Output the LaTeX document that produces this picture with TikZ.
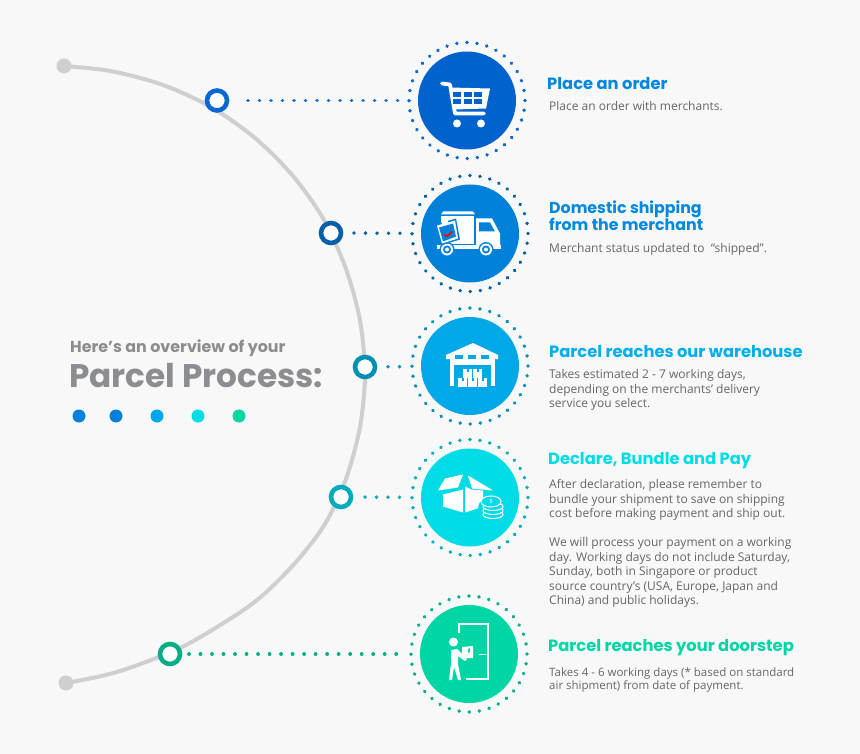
\documentclass[tikz,border=0pt]{standalone}
\usepackage{fontspec}
\setmainfont{Open Sans}
\newfontfamily\headfont{Poppins}
\usetikzlibrary{calc}
\definecolor{paper}{HTML}{F8F8F8}
\definecolor{arcgray}{HTML}{CFCFCF}
\definecolor{titlegray}{HTML}{8C8D90}
\definecolor{bodygray}{HTML}{666666}
\definecolor{stepA}{HTML}{0062CC}
\definecolor{stepB}{HTML}{0081D9}
\definecolor{stepC}{HTML}{00A8E8}
\definecolor{stepD}{HTML}{00DCE6}
\definecolor{stepE}{HTML}{00D5A5}
\definecolor{dotA}{HTML}{0A66D0}
\definecolor{dotB}{HTML}{0560A8}
\definecolor{dotC}{HTML}{0090B4}
\definecolor{dotD}{HTML}{00ABBB}
\definecolor{dotE}{HTML}{00AE86}
\definecolor{headA}{HTML}{0088E0}
\definecolor{headC}{HTML}{00AEEF}
\tikzset{
    disc/.style={circle,fill=#1,minimum size=98pt,inner sep=0pt,outer sep=0pt},
    halo/.style={circle,draw=#1,line width=3.8pt,line cap=round,dash pattern=on 0.01pt off 10.12pt,minimum size=116pt,inner sep=0pt,outer sep=0pt},
    ringmark/.style={circle,draw=#1,fill=white,line width=4.6pt,minimum size=20pt,inner sep=0pt,outer sep=0pt},
    arcend/.style={circle,fill=arcgray,minimum size=15pt,inner sep=0pt,outer sep=0pt},
    smalldot/.style={circle,fill=#1,minimum size=13pt,inner sep=0pt,outer sep=0pt},
    dotlink/.style={draw=#1,line width=3.8pt,line cap=round,dash pattern=on 0.01pt off 11.5pt},
    head/.style={anchor=north west,inner sep=0pt,text=#1,align=left,font=\headfont\bfseries\fontsize{16.3}{17}\selectfont},
    body/.style={anchor=north west,inner sep=0pt,text=bodygray,align=left,font=\fontsize{12}{14.5}\selectfont},
}

\begin{document}
\begin{tikzpicture}[x=1pt,y=-1pt]
    \fill[paper] (0,0) rectangle (860,754);
    \useasboundingbox (0,0) rectangle (860,754);

    \draw[arcgray,line width=4pt] plot[smooth] coordinates {
        (64,66) (110.5,71) (162,84.6) (211,107) (255,138) (293,176) (324,220) (346,269) (360,320.5) (365,374)
        (360,427) (346,479) (325,524) (296,562) (263,595) (233,617) (180,648) (117,672) (66,683)};
    \node[arcend] (arcTop) at (64,66) {};
    \node[arcend] (arcBottom) at (66,683) {};

    \foreach \n/\xc/\yc/\xr/\yr/\gap in {A/467/100.5/217/100.5/21,B/470/233.5/331/233/13,C/470/366/365/367/13,D/470/497.5/341/497/14,E/469/654/170/654/9} {
        \node[halo=dot\n] (halo\n) at (\xc,\yc) {};
        \node[disc=step\n] (disc\n) at (\xc,\yc) {};
        \node[ringmark=dot\n] (ring\n) at (\xr,\yr) {};
        \draw[dotlink=dot\n,shorten <=\gap pt,shorten >=9pt] (ring\n) -- (halo\n);
    }

    % cart
    \begin{scope}[shift={(467,100.5)}]
        \draw[white,line width=3.8pt,line cap=round,line join=round] (-25,-17) -- (-17,-16) -- (-12,13) -- (17,13);
        \fill[white] (-17,-13) -- (23,-12) -- (19,8) -- (-12,9) -- cycle;
        \foreach \wx in {-14,-3,7} {
            \foreach \wy in {-8,-1} {
                \fill[stepA] (\wx,\wy) rectangle (\wx+8,\wy+4.5);
            }
        }
        \fill[white] (-10,23) circle (4) (14,23) circle (4);
    \end{scope}

    % truck
    \begin{scope}[shift={(470,233.5)}]
        \fill[white] (-27,-22) -- (3,-22) -- (5,-19) -- (-29,-19) -- cycle;
        \fill[white] (-29,-17) rectangle (4,11);
        \fill[white] (6,-15) -- (22,-15) -- (30,0) -- (30,12) -- (6,12) -- cycle;
        \fill[stepB] (9,-11) -- (20,-11) -- (25,-2) -- (9,-2) -- cycle;
        \fill[white] (-33,11.5) rectangle (31,15.5);
        \foreach \wx in {-23,16} {
            \fill[stepB] (\wx,16) circle (7.5);
            \fill[white] (\wx,16) circle (6);
            \fill[stepB] (\wx,16) circle (4);
            \fill[white] (\wx,16) circle (2);
        }
        \fill[stepB] (-35,-9) -- (-14,-15) -- (-10,6) -- (-29,12) -- cycle;
        \fill[white] (-33,-8) -- (-15,-13) -- (-12,5) -- (-28,10) -- cycle;
        \fill[stepB] (-31,-6) -- (-17,-10) -- (-14,3) -- (-27,8) -- cycle;
        \fill[white] (-28,-14) rectangle (-22,-9);
        \draw[red,line width=1.5pt] (-26,1) -- (-23,3) -- (-18,-2);
    \end{scope}

    % warehouse
    \begin{scope}[shift={(470,366)}]
        \fill[white] (-24,-11) -- (3,-23) -- (28,-11) -- (28,-7) -- (-24,-7) -- cycle;
        \fill[white] (-20,-7) rectangle (25,20);
        \foreach \wx in {-15,-2,11} {
            \fill[stepC] (\wx,-11) rectangle (\wx+8,-7);
        }
        \fill[stepC] (-16,-1) rectangle (21,20);
        \foreach \bx/\by in {-7/3,3/3,-12/12,-2/12,8/12} {
            \fill[white] (\bx,\by) rectangle (\bx+9,\by+8.5);
            \fill[stepC] (\bx+3.5,\by) rectangle (\bx+5.5,\by+2.5);
        }
    \end{scope}

    % box and coins
    \begin{scope}[shift={(470,497.5)}]
        \fill[white] (-32,-7) -- (-25,-19) -- (-7,-23) -- (-12,-10) -- cycle;
        \fill[white] (-2,-22) -- (23,-7) -- (2,-9) -- cycle;
        \fill[white] (-27,-3) -- (-7,-8) -- (-7,15) -- (-27,9) -- cycle;
        \fill[white] (-5,-11) -- (1,-8) -- (13,-7) -- (13,9) -- (-5,15) -- cycle;
        \fill[stepD] (21,11) ellipse (13 and 12);
        \foreach \cy in {17,13,9} {
            \filldraw[fill=stepD,draw=white,line width=1pt] (23,\cy) ellipse (10 and 4);
        }
        \filldraw[fill=stepD,draw=white,line width=1pt] (21,4) ellipse (10 and 5.5);
        \node[text=white,font=\fontsize{6}{6}\selectfont,inner sep=0pt] (coinLabel) at (21,4) {\$};
    \end{scope}

    % door and person
    \begin{scope}[shift={(469,654)}]
        \draw[white,line width=1.5pt] (-10,-21) -- (-10,-30) -- (19,-30) -- (19,25) -- (-3,25);
        \draw[white,line width=1.5pt] (10,0.5) -- (17,0.5);
        \fill[white] (-15.5,-12) circle (4.5);
        \fill[white] (-18,-4) -- (-12,-5) -- (-2,5) -- (-4,7) -- (-11,2) -- (-11,10) -- (-8,26) -- (-11,26) -- (-15,13) -- (-17,26) -- (-20,26) -- (-18,10) -- cycle;
        \fill[white] (-7,-7) -- (4,-8) -- (4,4) -- (-7,4) -- cycle;
        \fill[stepE] (-1,-5) -- (1,-6) -- (1,-2) -- (-1,-1) -- cycle;
    \end{scope}

    \node[anchor=base west,inner sep=0pt,text=titlegray,font=\headfont\bfseries\fontsize{15.9}{17}\selectfont] (overview) at (70,352.5) {Here’s an overview of your};
    \node[anchor=base west,inner sep=0pt,text=titlegray,font=\headfont\bfseries\fontsize{32.7}{36}\selectfont] (parcelTitle) at (69,387) {Parcel Process:};
    \node[smalldot=stepB] (keyA) at (79,416) {};
    \node[smalldot=stepB] (keyB) at (116,416) {};
    \node[smalldot=stepC] (keyC) at (157,416) {};
    \node[smalldot=stepD] (keyD) at (198,416) {};
    \node[smalldot=stepE] (keyE) at (239,416) {};

    \node[head=headA] (headA) at (547,77.5) {Place an order};
    \node[body] (bodyA) at (549,101.5) {Place an order with merchants.};
    \node[head=headA,font=\headfont\bfseries\fontsize{15.8}{17}\selectfont] (headB) at (549,200.5) {Domestic shipping\\from the merchant};
    \node[body] (bodyB) at (549,243.5) {Merchant status updated to \ “shipped”.};
    \node[head=headC] (headC) at (549,345) {Parcel reaches our warehouse};
    \node[body] (bodyC) at (549,369.5) {Takes estimated 2 - 7 working days,\\depending on the merchants’ delivery\\service you select.};
    \node[head=stepD] (headD) at (548,452) {Declare, Bundle and Pay};
    \node[body] (bodyD) at (549,479.5) {After declaration, please remember to\\bundle your shipment to save on shipping\\cost before making payment and ship out.\\[14.5pt]We will process your payment on a working\\day. Working days do not include Saturday,\\Sunday, both in Singapore or product\\source country’s (USA, Europe, Japan and\\China) and public holidays.};
    \node[head=stepE] (headE) at (548,639) {Parcel reaches your doorstep};
    \node[body,font=\fontsize{11.5}{13.5}\selectfont] (bodyE) at (549,667.5) {Takes 4 - 6 working days (* based on standard\\air shipment) from date of payment.};
\end{tikzpicture}
\end{document}
